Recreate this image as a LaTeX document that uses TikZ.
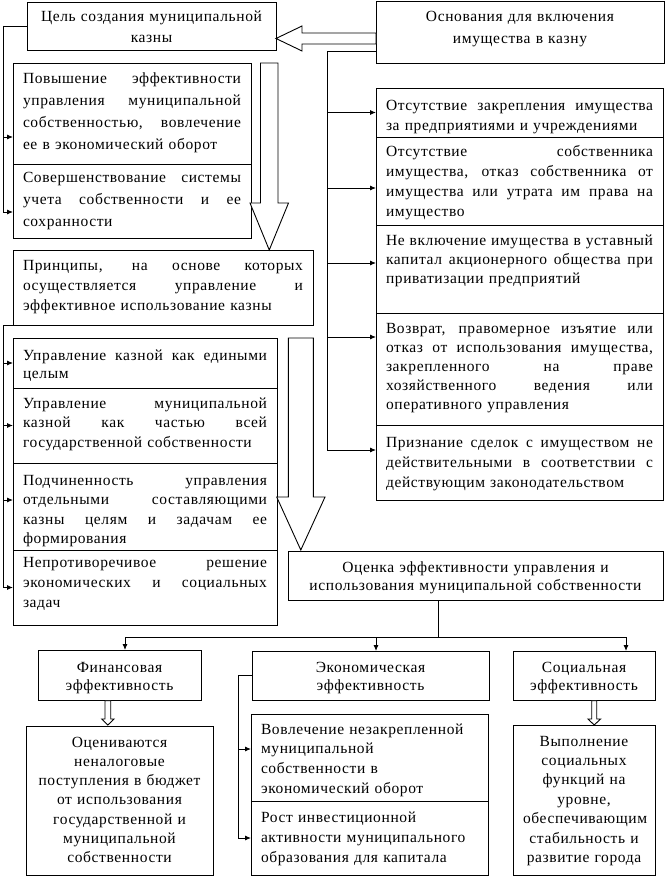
\documentclass[tikz,border=0pt]{standalone}
\usepackage{fontspec}
\setmainfont{Liberation Serif}[LetterSpace=4]
\usetikzlibrary{arrows.meta}
\newcommand\jl[1]{\leavevmode\hbox to\hsize{\spaceskip=0.3em plus 1fil\relax #1}\\}
\newcommand\bx[8]{%
  \pgfmathsetlengthmacro\bxw{(#4-#2)*1pt-20pt}%
  \pgfmathsetlengthmacro\bxd{(#5-#3-#6)*1pt}%
  \node[box,text width=\bxw,text height=#6pt,text depth=\bxd,#7] (#1) at (#2,#3) {#8};}
\begin{document}
\begin{tikzpicture}[x=1pt,y=-1pt,
  box/.style={draw,line width=0.9pt,anchor=north west,inner xsep=10pt,inner ysep=0pt,outer sep=0pt,align=left},
  bs/.style={font=\fontsize{15.5}{#1}\selectfont},
  arr/.style={line width=0.9pt,-{Latex[length=6pt,width=5pt]}},
  ln/.style={line width=0.9pt},
  blk/.style={draw,fill=white,line width=0.9pt,line join=miter}]
\useasboundingbox[fill=white] (0,0) rectangle (666,877);
% top row
\bx{cel}{27}{2}{276}{50}{20}{align=center,bs=21}{Цель создания муниципальной\\казны}
\bx{osn}{376}{1}{664}{63}{21}{align=center,bs=22}{Основания для включения\\имущества в казну}
% left goals
\bx{pov}{13}{63}{251}{164}{21}{bs=22}{\jl{Повышение эффективности}\jl{управления муниципальной}\jl{собственностью, вовлечение}ее в экономический оборот}
\bx{sov}{13}{164}{251}{238}{19}{bs=22}{\jl{Совершенствование системы}\jl{учета собственности и ее}сохранности}
% principles
\bx{pr}{13}{250}{313}{325}{20}{bs=20}{\jl{Принципы, на основе которых}\jl{осуществляется управление и}эффективное использование казны}
\bx{pa}{13}{338}{277}{388}{22}{bs=18.5}{\jl{Управление казной как едиными}целым}
\bx{pb}{13}{388}{277}{463}{20}{bs=19.5}{\jl{Управление муниципальной}\jl{казной как частью всей}государственной собственности}
\bx{pc}{13}{463}{277}{550}{22}{bs=19.5}{\jl{Подчиненность управления}\jl{отдельными составляющими}\jl{казны целям и задачам ее}формирования}
\bx{pd}{13}{550}{277}{625}{17}{bs=20}{\jl{Непротиворечивое решение}\jl{экономических и социальных}задач}
% right grounds
\bx{r1}{376}{88}{663}{137}{23}{bs=20}{\jl{Отсутствие закрепления имущества}за предприятиями и учреждениями}
\bx{r2}{376}{137}{663}{225}{20}{bs=20}{\jl{Отсутствие собственника}\jl{имущества, отказ собственника от}\jl{имущества или утрата им права на}имущество}
\bx{r3}{376}{225}{663}{313}{20}{bs=19}{\jl{Не включение имущества в уставный}\jl{капитал акционерного общества при}приватизации предприятий}
\bx{r4}{376}{313}{663}{425}{20}{bs=19}{\jl{Возврат, правомерное изъятие или}\jl{отказ от использования имущества,}\jl{закрепленного на праве}\jl{хозяйственного ведения или}оперативного управления}
\bx{r5}{376}{425}{663}{500}{22}{bs=20}{\jl{Признание сделок с имуществом не}\jl{действительными в соответствии с}действующим законодательством}
% evaluation
\bx{oc}{288}{551}{663}{600}{21}{align=center,bs=18.5}{Оценка эффективности управления и\\использования муниципальной собственности}
\bx{fin}{38}{650}{201}{700}{22}{align=center,bs=18}{Финансовая\\эффективность}
\bx{ek}{252}{651}{489}{700}{21}{align=center,bs=18}{Экономическая\\эффективность}
\bx{soc}{513}{651}{655}{700}{21}{align=center,bs=18}{Социальная\\эффективность}
\bx{finx}{26}{726}{213}{875}{21}{align=center,bs=19.3}{Оцениваются\\неналоговые\\поступления в бюджет\\от использования\\государственной и\\муниципальной\\собственности}
\bx{vov}{251}{714}{488}{801}{20}{bs=19.7}{Вовлечение незакрепленной\\муниципальной\\собственности в\\экономический оборот}
\bx{rost}{251}{801}{488}{875}{21}{bs=20}{Рост инвестиционной\\активности муниципального\\образования для капитала}
\bx{vyp}{513}{725}{655}{875}{21}{align=center,bs=19.4}{Выполнение\\социальных\\функций на\\уровне,\\обеспечивающим\\стабильность и\\развитие города}
% connector rails
\coordinate (L1) at (3,0);
\coordinate (R) at (327,0);
\coordinate (B) at (0,637.5);
\coordinate (E) at (238,0);
% goals connectors
\draw[arr] (cel.west) -- (cel.west -| L1) |- ([yshift=-11pt]sov.west);
\draw[arr] (cel.west -| L1) |- ([yshift=-23.5pt]pov.west);
% principles connectors
\draw[arr] (pr.south west) -- (pr.south west -| L1) |- (pd.west);
\draw[arr] (pr.south west -| L1) |- (pa.west);
\draw[arr] (pr.south west -| L1) |- (pb.west);
\draw[arr] (pr.south west -| L1) |- ([yshift=6.5pt]pc.west);
% grounds connectors
\draw[arr] ([yshift=12pt]osn.south west) -- ([yshift=12pt]osn.south west -| R) |- ([yshift=12.5pt]r5.west);
\draw[arr] (r1.west -| R) -- (r1.west);
\draw[arr] ([yshift=-7pt]r2.west -| R) -- ([yshift=-7pt]r2.west);
\draw[arr] ([yshift=6pt]r3.west -| R) -- ([yshift=6pt]r3.west);
\draw[arr] ([yshift=32pt]r4.west -| R) -- ([yshift=32pt]r4.west);
% evaluation connectors
\draw[ln] ([xshift=-37.5pt]oc.south) -- ([xshift=-37.5pt]oc.south |- B);
\draw[arr] ([xshift=-37.5pt]oc.south |- B) -| ([xshift=5.5pt]fin.north);
\draw[arr] ([xshift=-37.5pt]oc.south |- B) -| ([xshift=42pt]soc.north);
\draw[arr] ([xshift=5.5pt]ek.north |- B) -- ([xshift=5.5pt]ek.north);
\draw[arr] (ek.west) -- (ek.west -| E) |- (rost.west);
\draw[arr] (ek.west -| E) |- ([yshift=8.5pt]vov.west);
% block arrows
\draw[blk] (260.5,63) -- (278,63) -- (278,203) -- (288.5,203) -- (269.25,250) -- (250,203) -- (260.5,203) -- cycle;
\draw[blk] (288.3,338) -- (313.3,338) -- (313.3,497) -- (325,497) -- (300.8,550) -- (276.7,497) -- (288.3,497) -- cycle;
\draw[blk] (376,33) -- (302,33) -- (302,26) -- (276,38.5) -- (302,51) -- (302,44) -- (376,44) -- cycle;
\draw[blk] (105,700.7) -- (110.7,700.7) -- (110.7,719) -- (114,719) -- (107.85,725) -- (101.7,719) -- (105,719) -- cycle;
\draw[blk] (591.7,700.7) -- (596.7,700.7) -- (596.7,719) -- (600.6,719) -- (594.2,725) -- (588,719) -- (591.7,719) -- cycle;
\end{tikzpicture}
\end{document}
